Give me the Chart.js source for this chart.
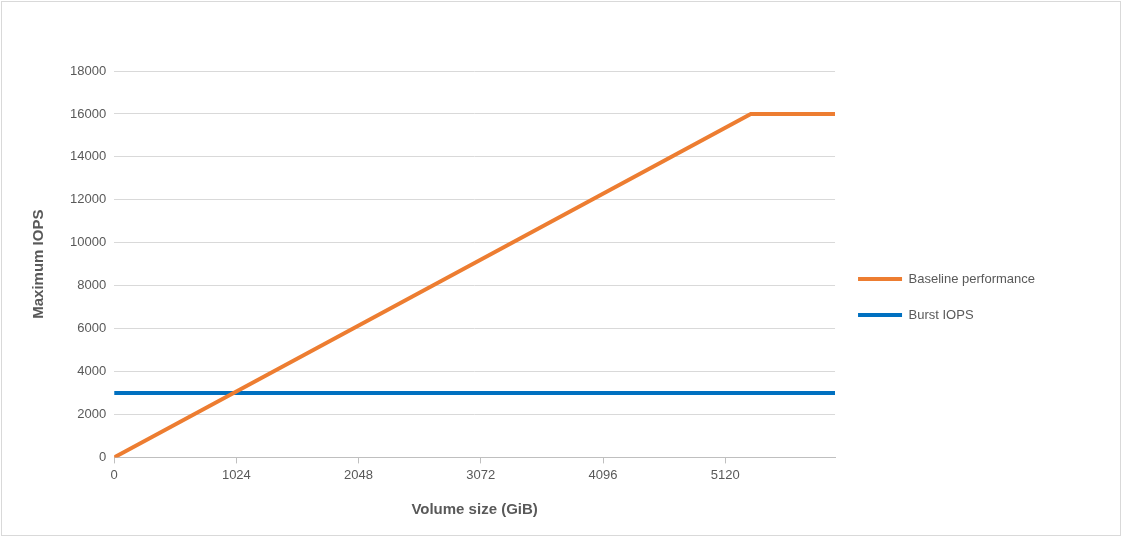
<!DOCTYPE html>
<html><head><meta charset="utf-8">
<script src="https://cdn.jsdelivr.net/npm/chart.js@4"></script>
<style>
html,body{margin:0;padding:0;background:#fff}
#wrap{position:absolute;left:1px;top:1px;width:1118px;height:533px;border:1px solid #d9d9d9}
</style></head><body>
<div id="wrap"><canvas id="c"></canvas></div>
<script>
const xMax = 6040;
const xTicks = [0, 1024, 2048, 3072, 4096, 5120];
const baselineX = [0, 5334, 6040];
const baselineY = [0, 16000, 16000];
const burstX = [0, 6040];
const burstY = [3000, 3000];

const gray = '#595959';
const font = {family: 'Liberation Sans, Arial, sans-serif', size: 13};

new Chart(document.getElementById('c'), {
    type: 'line',
    data: {
        datasets: [{
            label: 'Baseline performance',
            data: baselineX.map((x, i) => ({x: x, y: baselineY[i]})),
            borderColor: '#ed7d31', backgroundColor: '#ed7d31',
            borderWidth: 4, pointRadius: 0, tension: 0
        }, {
            label: 'Burst IOPS',
            data: burstX.map((x, i) => ({x: x, y: burstY[i]})),
            borderColor: '#0070c0', backgroundColor: '#0070c0',
            borderWidth: 4, pointRadius: 0, tension: 0
        }]
    },
    options: {
        responsive: true, maintainAspectRatio: false, animation: false,
        layout: {padding: {left: 24, right: 75, top: 69, bottom: 12}},
        plugins: {
            legend: {
                position: 'right',
                labels: {color: gray, font: font, boxWidth: 44, boxHeight: 0, padding: 23,
                    generateLabels: (ch) => ch.data.datasets.map((d, i) => ({
                        text: d.label, strokeStyle: d.borderColor, fillStyle: d.borderColor,
                        lineWidth: 4, datasetIndex: i, fontColor: gray
                    }))
                }
            },
            tooltip: {enabled: false}
        },
        scales: {
            x: {
                type: 'linear', min: 0, max: xMax,
                afterBuildTicks: (ax) => { ax.ticks = xTicks.map(v => ({value: v})); },
                grid: {display: true, drawOnChartArea: false, color: '#bfbfbf', tickLength: 6},
                border: {color: '#bfbfbf'},
                ticks: {color: gray, font: font, padding: 4, callback: v => String(v)},
                title: {display: true, text: 'Volume size (GiB)', color: gray,
                    font: {family: font.family, size: 15, weight: 'bold'}, padding: {top: 14}}
            },
            y: {
                min: 0, max: 18000,
                ticks: {stepSize: 2000, color: gray, font: font, padding: 8, callback: v => String(v)},
                grid: {color: '#d9d9d9', drawTicks: false},
                border: {display: false},
                title: {display: true, text: 'Maximum IOPS', color: gray,
                    font: {family: font.family, size: 15, weight: 'bold'}, padding: {bottom: 14}}
            }
        }
    }
});
</script></body></html>
